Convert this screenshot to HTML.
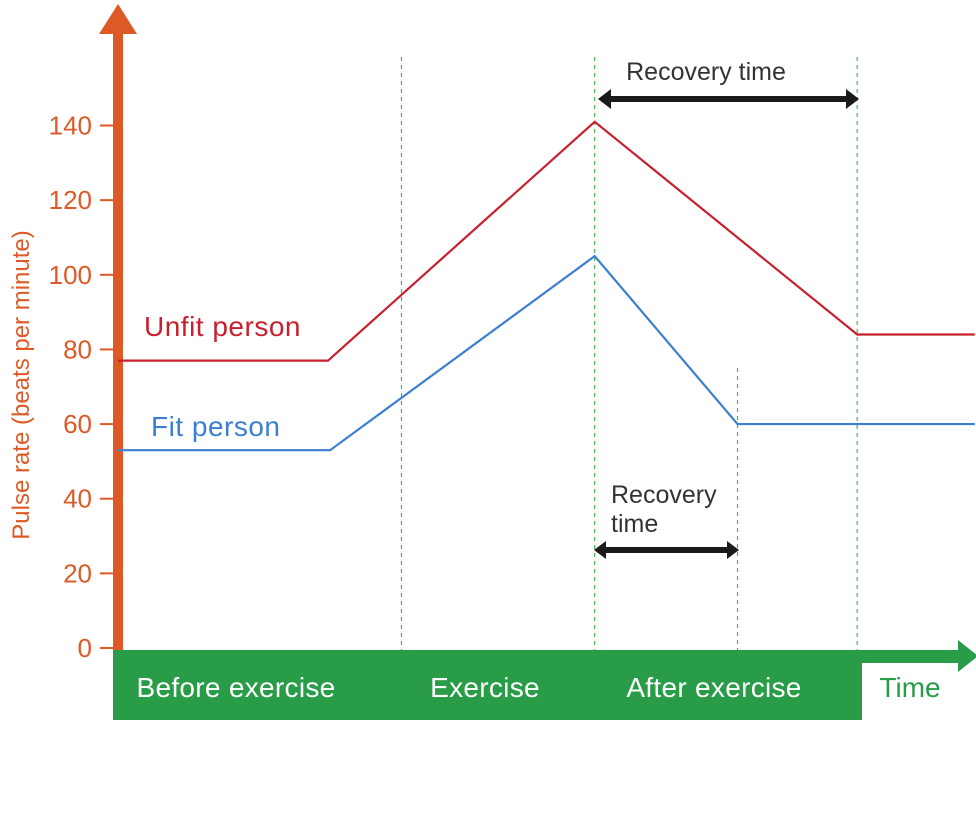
<!DOCTYPE html>
<html><head><meta charset="utf-8"><style>
html,body{margin:0;padding:0;background:#fff;}
svg{display:block;font-family:"Liberation Sans",Arial,sans-serif;}
</style></head><body>
<svg id="chart" width="976" height="833" viewBox="0 0 976 833">
  <rect x="113" y="650" width="749" height="70" fill="#299c48"/>
  <rect x="113" y="650" width="850" height="13" fill="#299c48"/>
  <polygon points="958,640 978,656 958,672" fill="#299c48"/>
  <text x="236" y="697" font-size="28" letter-spacing="0.3" fill="#fff" text-anchor="middle">Before exercise</text>
  <text x="485" y="697" font-size="28" letter-spacing="0.3" fill="#fff" text-anchor="middle">Exercise</text>
  <text x="714" y="697" font-size="28" letter-spacing="0.3" fill="#fff" text-anchor="middle">After exercise</text>
  <text x="910" y="697" font-size="28" fill="#299c48" text-anchor="middle">Time</text>
  <g id="grid"></g>
  <rect x="113" y="30" width="10" height="620" fill="#dd5a26"/>
  <polygon points="99,34 118,4 137,34" fill="#dd5a26"/>
  <g id="ticks"></g>
  <text transform="translate(29,385) rotate(-90)" font-size="24" fill="#dd5a26" text-anchor="middle">Pulse rate (beats per minute)</text>
  <g id="series"></g>
  <text x="144" y="336" font-size="28" letter-spacing="0.5" fill="#c8202f">Unfit person</text>
  <text x="151" y="436" font-size="28" letter-spacing="0.5" fill="#3a7fd0">Fit person</text>
  <text x="706" y="80" font-size="25" fill="#333" text-anchor="middle">Recovery time</text>
  <g>
    <rect x="608" y="96" width="238" height="6" fill="#1a1a1a"/>
    <polygon points="598,99 611,89 611,109" fill="#1a1a1a"/>
    <polygon points="859,99 846,89 846,109" fill="#1a1a1a"/>
  </g>
  <text x="611" y="503" font-size="25" fill="#333">Recovery</text>
  <text x="611" y="532" font-size="25" fill="#333">time</text>
  <g>
    <rect x="603" y="547" width="126" height="6" fill="#1a1a1a"/>
    <polygon points="594,550 606,541 606,559" fill="#1a1a1a"/>
    <polygon points="739,550 727,541 727,559" fill="#1a1a1a"/>
  </g>
</svg>
<script>
const yTicks = [0,20,40,60,80,100,120,140];
const unfitX = [0, 1.0, 2.27, 3.52, 4.08];
const unfitY = [77, 77, 141, 84, 84];
const fitX = [0, 1.01, 2.27, 2.95, 4.08];
const fitY = [53, 53, 105, 60, 60];
const dividerX = [1.35, 2.27, 2.95, 3.52];
const dividerTop = [57, 57, 368, 57];

const ns = "http://www.w3.org/2000/svg";
const y = v => 648 - v * 3.732;
const x = t => 118 + t * 210;

const ticksG = document.getElementById('ticks');
yTicks.forEach(v => {
  const l = document.createElementNS(ns, 'line');
  l.setAttribute('x1', 100); l.setAttribute('x2', 113);
  l.setAttribute('y1', y(v)); l.setAttribute('y2', y(v));
  l.setAttribute('stroke', '#dd5a26'); l.setAttribute('stroke-width', 2);
  
  
  ticksG.appendChild(l);
  const t = document.createElementNS(ns, 'text');
  t.setAttribute('x', 92); t.setAttribute('y', y(v) + 9);
  t.setAttribute('text-anchor', 'end'); t.setAttribute('font-size', 26);
  t.setAttribute('fill', '#dd5a26');
  t.textContent = v;
  
  
  ticksG.appendChild(t);
});

const gridG = document.getElementById('grid');
dividerX.forEach((d, i) => {
  const l = document.createElementNS(ns, 'line');
  l.setAttribute('x1', x(d)); l.setAttribute('x2', x(d));
  l.setAttribute('y1', dividerTop[i]); l.setAttribute('y2', 650);
  l.setAttribute('stroke', '#3fb45a'); l.setAttribute('stroke-width', 1.2);
  l.setAttribute('stroke-dasharray', '4,4');
  
  
  gridG.appendChild(l);
});

const sG = document.getElementById('series');
function line(xs, ys, color, name) {
  const p = document.createElementNS(ns, 'polyline');
  p.setAttribute('points', xs.map((t, i) => x(t) + ',' + y(ys[i])).join(' '));
  p.setAttribute('fill', 'none'); p.setAttribute('stroke', color);
  p.setAttribute('stroke-width', 2.2);
  
  
  sG.appendChild(p);
}
line(unfitX, unfitY, '#c8202f', 'unfit-person-line');
line(fitX, fitY, '#3a7fd0', 'fit-person-line');
</script>
</body></html>
